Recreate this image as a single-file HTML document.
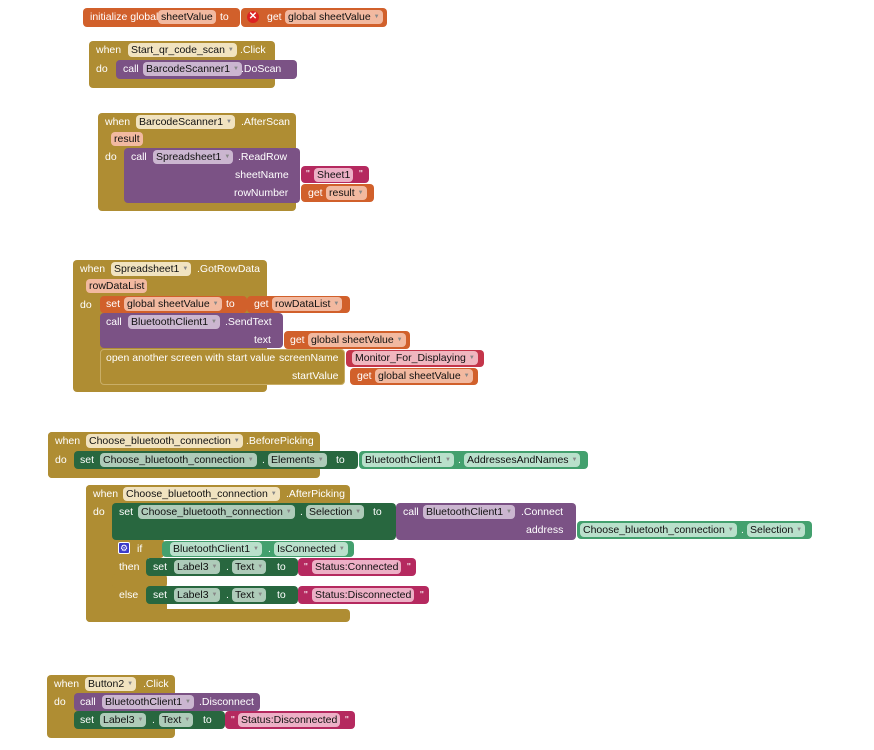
<!DOCTYPE html>
<html><head><meta charset="utf-8"><style>
body{margin:0;width:874px;height:750px;background:#fff;position:relative;overflow:hidden;font-family:"Liberation Sans",sans-serif;font-size:10.5px}
.b{position:absolute;border-radius:4px}
.g{background:#AF8D33}.o{background:#D1602B}.p{background:#7B5285}.d{background:#28673F}.l{background:#43A06E}.k{background:#B5295F}.r{background:#C4354A}
.t{position:absolute;color:#fff;line-height:18px;white-space:nowrap}
.c{position:absolute;height:14px;line-height:14px;padding:0 3px;border-radius:4px;color:#111;white-space:nowrap}
.cg{background:#F1E3C0}.co{background:#F2B9A0}.cp{background:#CBB6D0}.cd{background:#AECBB9}.cl{background:#B9E0CB}.ck{background:#EDB0C6}.cr{background:#F0B6BF}
.v{font-size:6px;color:#888;vertical-align:middle}
</style></head><body>
<!-- block 1 -->
<div class="b o" style="left:83px;top:8px;width:157px;height:19px"></div>
<div class="b o" style="left:241px;top:8px;width:146px;height:19px"></div>
<div class="t" style="left:90px;top:8px">initialize global</div>
<div class="c co" style="left:158px;top:10px">sheetValue</div>
<div class="t" style="left:220px;top:8px">to</div>
<div class="b" style="left:247px;top:11px;width:12px;height:12px;border-radius:50%;background:#d22;color:#fff;font-size:10px;line-height:12px;text-align:center;font-weight:bold">✕</div>
<div class="t" style="left:267px;top:8px">get</div>
<div class="c co" style="left:285px;top:10px">global sheetValue <span class="v">▼</span></div>

<!-- block 2 -->
<div class="b g" style="left:89px;top:41px;width:186px;height:47px"></div>
<div class="b p" style="left:116px;top:60px;width:181px;height:19px"></div>
<div class="t" style="left:96px;top:41px">when</div>
<div class="c cg" style="left:128px;top:43px">Start_qr_code_scan <span class="v">▼</span></div>
<div class="t" style="left:240px;top:41px">.Click</div>
<div class="t" style="left:96px;top:60px">do</div>
<div class="t" style="left:123px;top:60px">call</div>
<div class="c cp" style="left:143px;top:62px">BarcodeScanner1 <span class="v">▼</span></div>
<div class="t" style="left:241px;top:60px">.DoScan</div>

<!-- block 3 -->
<div class="b g" style="left:98px;top:113px;width:198px;height:98px"></div>
<div class="b p" style="left:124px;top:148px;width:176px;height:55px"></div>
<div class="t" style="left:105px;top:113px">when</div>
<div class="c cg" style="left:136px;top:115px">BarcodeScanner1 <span class="v">▼</span></div>
<div class="t" style="left:241px;top:113px">.AfterScan</div>
<div class="c co" style="left:111px;top:132px">result</div>
<div class="t" style="left:105px;top:148px">do</div>
<div class="t" style="left:131px;top:148px">call</div>
<div class="c cp" style="left:153px;top:150px">Spreadsheet1 <span class="v">▼</span></div>
<div class="t" style="left:238px;top:148px">.ReadRow</div>
<div class="t" style="left:235px;top:166px">sheetName</div>
<div class="t" style="left:234px;top:184px">rowNumber</div>
<div class="b k" style="left:301px;top:166px;width:68px;height:17px"></div>
<div class="t" style="left:306px;top:165px">"</div>
<div class="c ck" style="left:314px;top:168px">Sheet1</div>
<div class="t" style="left:359px;top:165px">"</div>
<div class="b o" style="left:301px;top:184px;width:73px;height:18px"></div>
<div class="t" style="left:308px;top:184px">get</div>
<div class="c co" style="left:326px;top:186px">result <span class="v">▼</span></div>

<!-- block 4 -->
<div class="b g" style="left:73px;top:260px;width:194px;height:132px"></div>
<div class="t" style="left:80px;top:260px">when</div>
<div class="c cg" style="left:111px;top:262px">Spreadsheet1 <span class="v">▼</span></div>
<div class="t" style="left:197px;top:260px">.GotRowData</div>
<div class="c co" style="left:86px;top:279px">rowDataList</div>
<div class="t" style="left:80px;top:296px">do</div>
<div class="b o" style="left:100px;top:296px;width:147px;height:17px"></div>
<div class="t" style="left:106px;top:295px">set</div>
<div class="c co" style="left:124px;top:297px">global sheetValue <span class="v">▼</span></div>
<div class="t" style="left:226px;top:295px">to</div>
<div class="b o" style="left:247px;top:296px;width:103px;height:17px"></div>
<div class="t" style="left:254px;top:295px">get</div>
<div class="c co" style="left:272px;top:297px">rowDataList <span class="v">▼</span></div>
<div class="b p" style="left:100px;top:313px;width:183px;height:35px"></div>
<div class="t" style="left:106px;top:313px">call</div>
<div class="c cp" style="left:128px;top:315px">BluetoothClient1 <span class="v">▼</span></div>
<div class="t" style="left:225px;top:313px">.SendText</div>
<div class="t" style="left:254px;top:331px">text</div>
<div class="b o" style="left:284px;top:331px;width:126px;height:18px"></div>
<div class="t" style="left:290px;top:331px">get</div>
<div class="c co" style="left:308px;top:333px">global sheetValue <span class="v">▼</span></div>
<div class="b g" style="left:100px;top:349px;width:245px;height:36px;border:1px solid #C9AE67;box-sizing:border-box"></div>
<div class="t" style="left:106px;top:349px">open another screen with start value</div>
<div class="t" style="left:279px;top:349px">screenName</div>
<div class="t" style="left:292px;top:367px">startValue</div>
<div class="b r" style="left:346px;top:350px;width:138px;height:17px"></div>
<div class="c cr" style="left:352px;top:351px">Monitor_For_Displaying <span class="v">▼</span></div>
<div class="b o" style="left:350px;top:368px;width:128px;height:17px"></div>
<div class="t" style="left:357px;top:367px">get</div>
<div class="c co" style="left:375px;top:369px">global sheetValue <span class="v">▼</span></div>

<!-- block 5 -->
<div class="b g" style="left:48px;top:432px;width:272px;height:22px"></div>
<div class="b g" style="left:48px;top:432px;width:30px;height:46px"></div>
<div class="b g" style="left:48px;top:466px;width:272px;height:12px"></div>
<div class="t" style="left:55px;top:432px">when</div>
<div class="c cg" style="left:86px;top:434px">Choose_bluetooth_connection <span class="v">▼</span></div>
<div class="t" style="left:246px;top:432px">.BeforePicking</div>
<div class="t" style="left:55px;top:451px">do</div>
<div class="b d" style="left:74px;top:451px;width:284px;height:18px"></div>
<div class="t" style="left:80px;top:451px">set</div>
<div class="c cd" style="left:100px;top:453px">Choose_bluetooth_connection <span class="v">▼</span></div>
<div class="t" style="left:262px;top:451px">.</div>
<div class="c cd" style="left:268px;top:453px">Elements <span class="v">▼</span></div>
<div class="t" style="left:336px;top:451px">to</div>
<div class="b l" style="left:359px;top:451px;width:229px;height:18px"></div>
<div class="c cl" style="left:362px;top:453px">BluetoothClient1 <span class="v">▼</span></div>
<div class="t" style="left:458px;top:451px">.</div>
<div class="c cl" style="left:464px;top:453px">AddressesAndNames <span class="v">▼</span></div>

<!-- block 6 -->
<div class="b g" style="left:86px;top:485px;width:264px;height:22px"></div>
<div class="b g" style="left:86px;top:485px;width:30px;height:137px"></div>
<div class="b g" style="left:86px;top:609px;width:264px;height:13px"></div>
<div class="t" style="left:93px;top:485px">when</div>
<div class="c cg" style="left:123px;top:487px">Choose_bluetooth_connection <span class="v">▼</span></div>
<div class="t" style="left:286px;top:485px">.AfterPicking</div>
<div class="t" style="left:93px;top:503px">do</div>
<!-- if block -->
<div class="b g" style="left:112px;top:538px;width:52px;height:20px;border-radius:0 4px 4px 0"></div>
<div class="b g" style="left:112px;top:538px;width:36px;height:74px;border-radius:0 0 0 4px"></div>
<div class="b g" style="left:112px;top:574px;width:55px;height:14px"></div>
<div class="b g" style="left:112px;top:602px;width:55px;height:10px;border-radius:0 0 3px 3px"></div>
<div class="b d" style="left:112px;top:503px;width:284px;height:37px"></div>
<div class="t" style="left:119px;top:503px">set</div>
<div class="c cd" style="left:138px;top:505px">Choose_bluetooth_connection <span class="v">▼</span></div>
<div class="t" style="left:300px;top:503px">.</div>
<div class="c cd" style="left:306px;top:505px">Selection <span class="v">▼</span></div>
<div class="t" style="left:373px;top:503px">to</div>
<div class="b p" style="left:396px;top:503px;width:180px;height:37px"></div>
<div class="t" style="left:403px;top:503px">call</div>
<div class="c cp" style="left:423px;top:505px">BluetoothClient1 <span class="v">▼</span></div>
<div class="t" style="left:521px;top:503px">.Connect</div>
<div class="t" style="left:526px;top:521px">address</div>
<div class="b l" style="left:577px;top:521px;width:235px;height:18px"></div>
<div class="c cl" style="left:580px;top:523px">Choose_bluetooth_connection <span class="v">▼</span></div>
<div class="t" style="left:741px;top:521px">.</div>
<div class="c cl" style="left:747px;top:523px">Selection <span class="v">▼</span></div>
<div class="b" style="left:118px;top:542px;width:12px;height:12px;background:#3B3BC8;border:1px solid #fff;box-sizing:border-box;border-radius:2px;color:#fff;font-size:9px;line-height:10px;text-align:center">⚙</div>
<div class="t" style="left:137px;top:540px">if</div>
<div class="b l" style="left:162px;top:541px;width:192px;height:16px"></div>
<div class="c cl" style="left:170px;top:542px">BluetoothClient1 <span class="v">▼</span></div>
<div class="t" style="left:268px;top:540px">.</div>
<div class="c cl" style="left:274px;top:542px">IsConnected <span class="v">▼</span></div>
<div class="t" style="left:119px;top:558px">then</div>
<div class="b d" style="left:146px;top:558px;width:152px;height:18px"></div>
<div class="t" style="left:153px;top:558px">set</div>
<div class="c cd" style="left:174px;top:560px">Label3 <span class="v">▼</span></div>
<div class="t" style="left:226px;top:558px">.</div>
<div class="c cd" style="left:232px;top:560px">Text <span class="v">▼</span></div>
<div class="t" style="left:277px;top:558px">to</div>
<div class="b k" style="left:298px;top:558px;width:118px;height:18px"></div>
<div class="t" style="left:304px;top:558px">"</div>
<div class="c ck" style="left:312px;top:560px">Status:Connected</div>
<div class="t" style="left:407px;top:558px">"</div>
<div class="t" style="left:119px;top:586px">else</div>
<div class="b d" style="left:146px;top:586px;width:152px;height:18px"></div>
<div class="t" style="left:153px;top:586px">set</div>
<div class="c cd" style="left:174px;top:588px">Label3 <span class="v">▼</span></div>
<div class="t" style="left:226px;top:586px">.</div>
<div class="c cd" style="left:232px;top:588px">Text <span class="v">▼</span></div>
<div class="t" style="left:277px;top:586px">to</div>
<div class="b k" style="left:298px;top:586px;width:131px;height:18px"></div>
<div class="t" style="left:304px;top:586px">"</div>
<div class="c ck" style="left:312px;top:588px">Status:Disconnected</div>
<div class="t" style="left:420px;top:586px">"</div>

<!-- block 7 -->
<div class="b g" style="left:47px;top:675px;width:128px;height:63px"></div>
<div class="t" style="left:54px;top:675px">when</div>
<div class="c cg" style="left:85px;top:677px">Button2 <span class="v">▼</span></div>
<div class="t" style="left:143px;top:675px">.Click</div>
<div class="t" style="left:54px;top:693px">do</div>
<div class="b p" style="left:74px;top:693px;width:186px;height:18px"></div>
<div class="t" style="left:80px;top:693px">call</div>
<div class="c cp" style="left:102px;top:695px">BluetoothClient1 <span class="v">▼</span></div>
<div class="t" style="left:199px;top:693px">.Disconnect</div>
<div class="b d" style="left:74px;top:711px;width:151px;height:18px"></div>
<div class="t" style="left:80px;top:711px">set</div>
<div class="c cd" style="left:100px;top:713px">Label3 <span class="v">▼</span></div>
<div class="t" style="left:152px;top:711px">.</div>
<div class="c cd" style="left:159px;top:713px">Text <span class="v">▼</span></div>
<div class="t" style="left:203px;top:711px">to</div>
<div class="b k" style="left:225px;top:711px;width:130px;height:18px"></div>
<div class="t" style="left:231px;top:711px">"</div>
<div class="c ck" style="left:238px;top:713px">Status:Disconnected</div>
<div class="t" style="left:345px;top:711px">"</div>
</body></html>
